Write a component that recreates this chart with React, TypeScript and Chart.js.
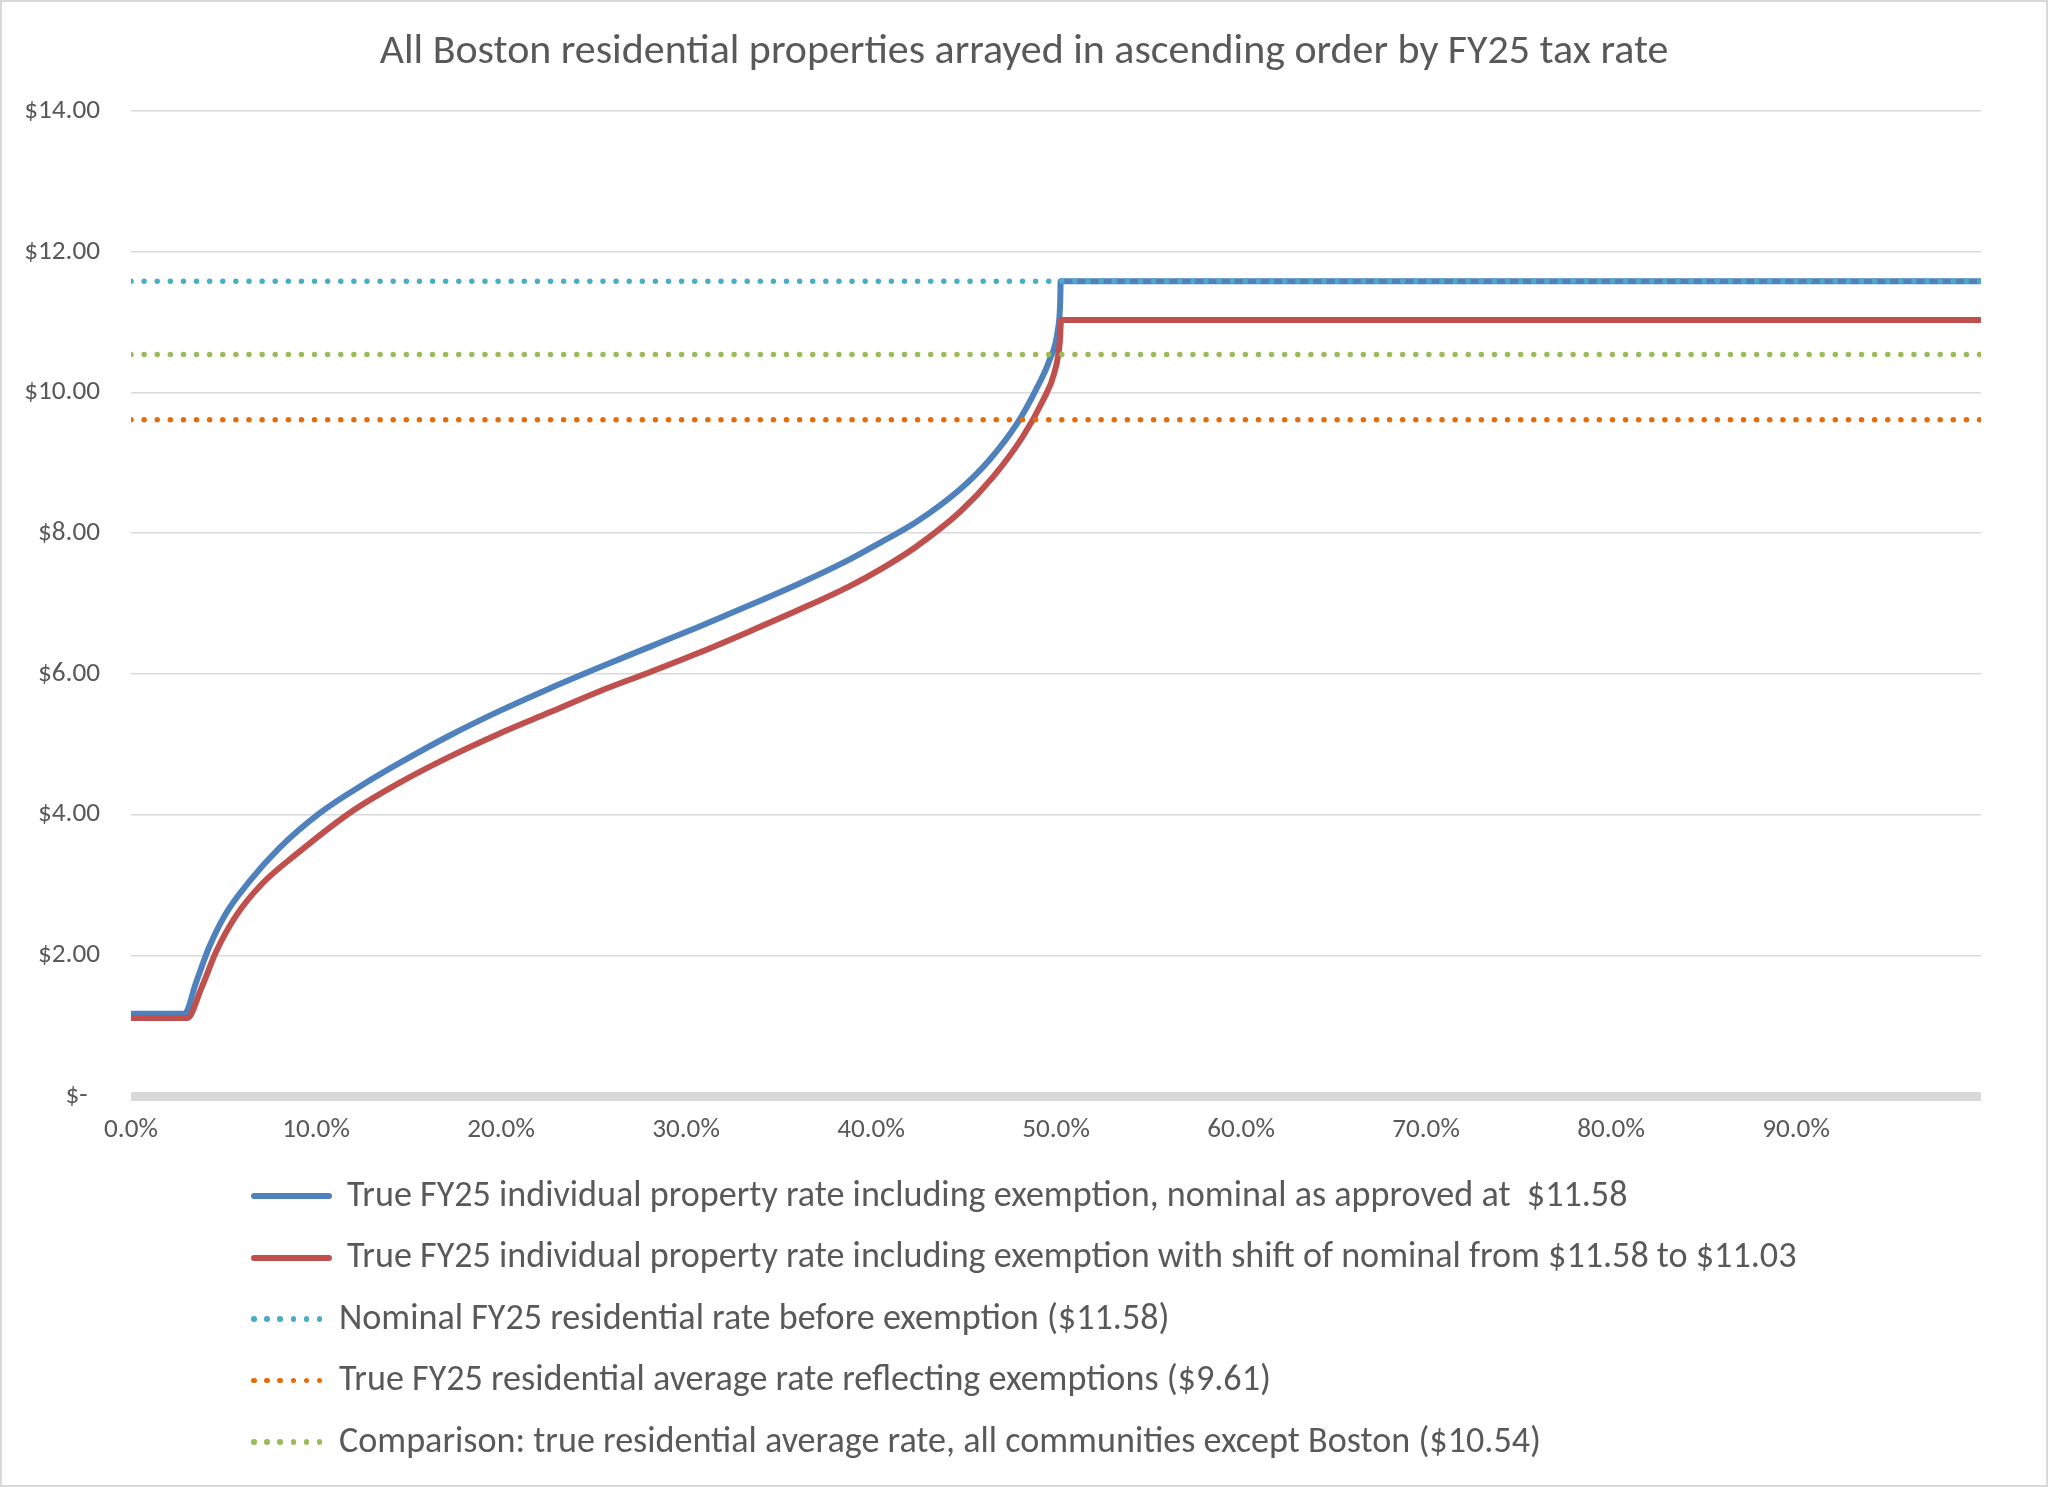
import React, { useEffect, useMemo, useRef } from "react";
import { Chart, registerables } from "chart.js";

Chart.register(...registerables);

// ---------- data ----------
const TITLE = "All Boston residential properties arrayed in ascending order by FY25 tax rate";

// percentile of properties (x, %) and FY25 effective rate ($ per $1,000)
const blueX = [0, 2.9, 3.5, 4.2, 5.1, 6.4, 8.0, 10.2, 12.5, 14.5, 17.2, 19.9, 22.6, 25.3, 28.0, 30.7, 33.4, 36.1, 38.8, 40.6, 42.4, 44.8, 46.4, 47.9, 48.9, 49.65, 50.1, 50.23, 50.25, 100];
const blueRate = [1.17, 1.17, 1.6, 2.1, 2.58, 3.05, 3.52, 4.02, 4.42, 4.73, 5.12, 5.47, 5.79, 6.09, 6.38, 6.67, 6.97, 7.28, 7.62, 7.88, 8.15, 8.62, 9.04, 9.56, 10.03, 10.46, 10.89, 11.31, 11.58, 11.58];

const redX = [0, 3.05, 3.8, 4.6, 5.7, 7.1, 8.9, 11.8, 14.5, 17.2, 19.9, 22.6, 25.3, 28.0, 30.7, 33.4, 36.1, 38.8, 40.6, 42.4, 44.8, 46.6, 48.2, 49.3, 49.9, 50.2, 50.28, 100];
const redRate = [1.11, 1.11, 1.53, 2.05, 2.57, 3.02, 3.43, 4.02, 4.45, 4.82, 5.15, 5.45, 5.75, 6.02, 6.30, 6.60, 6.91, 7.24, 7.50, 7.80, 8.30, 8.80, 9.37, 9.89, 10.27, 10.70, 11.03, 11.03];

const nominalRate = 11.58;
const trueAverageRate = 9.61;
const comparisonRate = 10.54;
const xRange = [0, 100];

const yTickValues = [0, 2, 4, 6, 8, 10, 12, 14];
const xTickValues = [0, 10, 20, 30, 40, 50, 60, 70, 80, 90];

const legendLabels = [
  "True FY25 individual property rate including exemption, nominal as approved at  $11.58",
  "True FY25 individual property rate including exemption with shift of nominal from $11.58 to $11.03",
  "Nominal FY25 residential rate before exemption ($11.58)",
  "True FY25 residential average rate reflecting exemptions ($9.61)",
  "Comparison: true residential average rate, all communities except Boston ($10.54)",
];

// ---------- styles ----------
const BLUE = "#4f81bd";
const RED = "#c0504d";
const CYAN = "#4bacc6";
const ORANGE = "#e46c0a";
const GREEN = "#9bbb59";
const TEXT = "#595959";
const GRID = "#d9d9d9";
const legendColors = [BLUE, RED, CYAN, ORANGE, GREEN];
const legendDotted = [false, false, true, true, true];

const W = 2048;
const H = 1487;

function hasFont(name: string): boolean {
  const ctx = document.createElement("canvas").getContext("2d")!;
  const s = "abcdefghijklmnopqrstuvwxyzABCDEFGHIJ0123456789$%.";
  ctx.font = "40px monospace";
  const w1 = ctx.measureText(s).width;
  ctx.font = `40px "${name}", monospace`;
  const w2 = ctx.measureText(s).width;
  ctx.font = "40px serif";
  const w3 = ctx.measureText(s).width;
  ctx.font = `40px "${name}", serif`;
  const w4 = ctx.measureText(s).width;
  return w1 !== w2 || w3 !== w4;
}

function fitSize(text: string, family: string, target: number): number {
  const ctx = document.createElement("canvas").getContext("2d")!;
  ctx.font = `100px ${family}`;
  const w = ctx.measureText(text).width;
  return (100 * target) / w;
}

function pickFonts() {
  let family = "Lato";
  if (hasFont("Carlito")) family = "Carlito";
  const fam = `"${family}", sans-serif`;
  const title = fitSize(TITLE, fam, 1289);
  const legend = fitSize(legendLabels[0], fam, 1281);
  const axis = (fitSize("$14.00", fam, 77) + fitSize("10.0%", fam, 66.7)) / 2;
  return { fam, title, legend, axis };
}

export default function App() {
  const canvasRef = useRef<HTMLCanvasElement | null>(null);
  const fonts = useMemo(() => pickFonts(), []);

  useEffect(() => {
    document.body.style.margin = "0";
    const canvas = canvasRef.current;
    if (!canvas) return;

    const toPts = (xs: number[], ys: number[]) => xs.map((x, i) => ({ x, y: ys[i] }));
    const flat = (v: number) => xRange.map((x) => ({ x, y: v }));

    const dotted = (label: string, color: string, v: number, order: number) => ({
      label,
      data: flat(v),
      borderColor: color,
      backgroundColor: color,
      borderWidth: 5.5,
      borderDash: [0.01, 13.1],
      borderCapStyle: "round" as const,
      pointRadius: 0,
      order,
    });

    const titleLine = fonts.title * 1.2;
    const padTop = 53 - titleLine / 2;
    const padBottom = 111 - padTop - titleLine;

    const chart = new Chart(canvas, {
      type: "line",
      data: {
        datasets: [
          {
            label: legendLabels[0],
            data: toPts(blueX, blueRate),
            borderColor: BLUE,
            backgroundColor: BLUE,
            borderWidth: 6,
            pointRadius: 0,
            cubicInterpolationMode: "monotone",
            order: 3,
          },
          {
            label: legendLabels[1],
            data: toPts(redX, redRate),
            borderColor: RED,
            backgroundColor: RED,
            borderWidth: 6,
            pointRadius: 0,
            cubicInterpolationMode: "monotone",
            order: 2,
          },
          dotted(legendLabels[2], CYAN, nominalRate, 1),
          dotted(legendLabels[3], ORANGE, trueAverageRate, 1),
          dotted(legendLabels[4], GREEN, comparisonRate, 0),
        ],
      },
      options: {
        responsive: false,
        animation: false,
        devicePixelRatio: 1,
        layout: { padding: { left: 0, right: 0, top: 0, bottom: H - 1096 - 60 } },
        plugins: {
          legend: { display: false },
          tooltip: { enabled: false },
          title: {
            display: true,
            text: TITLE,
            color: TEXT,
            font: { family: fonts.fam, size: fonts.title, weight: "normal" },
            padding: { top: padTop, bottom: padBottom },
          },
        },
        scales: {
          x: {
            type: "linear",
            min: xRange[0],
            max: xRange[1],
            grid: { display: false, drawTicks: false },
            border: { display: false },
            afterBuildTicks: (s: any) => {
              s.ticks = [...xTickValues, 100].map((v) => ({ value: v }));
            },
            ticks: {
              autoSkip: false,
              maxRotation: 0,
              padding: 18,
              color: TEXT,
              font: { family: fonts.fam, size: fonts.axis },
              callback: (v: any) => (xTickValues.includes(Number(v)) ? Number(v).toFixed(1) + "%" : ""),
            },
            afterFit: (s: any) => {
              s.height = 60;
            },
          },
          y: {
            min: 0,
            max: 14,
            afterBuildTicks: (s: any) => {
              s.ticks = yTickValues.map((v) => ({ value: v }));
            },
            grid: {
              color: GRID,
              lineWidth: (ctx: any) => (ctx.tick && ctx.tick.value === 0 ? 9 : 1.5),
              drawTicks: false,
            },
            border: { display: false },
            ticks: {
              padding: 31,
              color: TEXT,
              font: { family: fonts.fam, size: fonts.axis },
              callback: (v: any) => (Number(v) === 0 ? "$-  " : "$" + Number(v).toFixed(2)),
            },
            afterFit: (s: any) => {
              s.width = 131;
            },
          },
          yRightSpace: {
            position: "right",
            min: 0,
            max: 14,
            grid: { display: false, drawTicks: false },
            border: { display: false },
            ticks: { display: false },
            afterFit: (s: any) => {
              s.width = W - 1981;
            },
          },
        },
      },
    } as any);

    return () => chart.destroy();
  }, [fonts]);

  const rowCenters = legendLabels.map((_, i) => 1196 + i * 61.5);
  const lh = Math.round(fonts.legend * 1.3);

  return (
    <div style={{ position: "relative", width: W, height: H, background: "#fff", overflow: "hidden" }}>
      <canvas ref={canvasRef} width={W} height={H} style={{ position: "absolute", left: 0, top: 0, width: W, height: H }} />
      {legendLabels.map((label, i) => {
        const cy = rowCenters[i];
        const color = legendColors[i];
        const dottedSym = legendDotted[i];
        return (
          <React.Fragment key={i}>
            {dottedSym ? (
              [0, 1, 2, 3, 4, 5].map((k) => (
                <div
                  key={k}
                  style={{
                    position: "absolute",
                    left: 254 + k * 13.1 - 2.75,
                    top: cy - 2.75,
                    width: 5.5,
                    height: 5.5,
                    borderRadius: "50%",
                    background: color,
                  }}
                />
              ))
            ) : (
              <div
                style={{
                  position: "absolute",
                  left: 251,
                  top: cy - 3,
                  width: 81,
                  height: 6,
                  borderRadius: 3,
                  background: color,
                }}
              />
            )}
            <div
              style={{
                position: "absolute",
                left: dottedSym ? 339 : 347,
                top: cy - lh / 2 - 2,
                height: lh,
                lineHeight: `${lh}px`,
                fontFamily: fonts.fam,
                fontSize: fonts.legend,
                color: TEXT,
                whiteSpace: "pre",
              }}
            >
              {label}
            </div>
          </React.Fragment>
        );
      })}
      <div
        style={{
          position: "absolute",
          left: 0,
          top: 0,
          width: W,
          height: H,
          boxSizing: "border-box",
          border: `2px solid ${GRID}`,
          pointerEvents: "none",
        }}
      />
    </div>
  );
}
